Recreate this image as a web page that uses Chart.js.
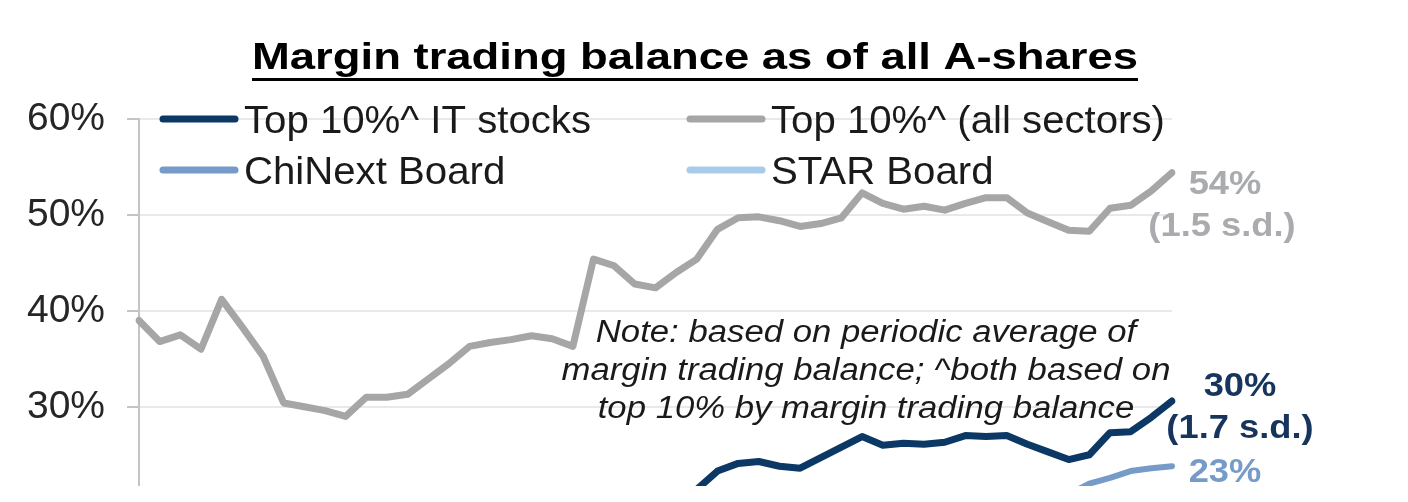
<!DOCTYPE html>
<html>
<head>
<meta charset="utf-8">
<title>Margin trading balance as of all A-shares</title>
<script src="https://cdn.jsdelivr.net/npm/chart.js@4.4.0/dist/chart.umd.min.js"></script>
<style>
  html, body { margin: 0; padding: 0; background: #fff; }
  #clip { width: 1408px; height: 486px; overflow: hidden; }
  #box { width: 1408px; height: 740px; }
</style>
</head>
<body>
<div id="clip"><div id="box"><canvas id="margin"></canvas></div></div>
<script>
// quarters on the x axis (the axis itself is cut off below)
var periods = ['1Q11','2Q11','3Q11','4Q11','1Q12','2Q12','3Q12','4Q12','1Q13','2Q13','3Q13','4Q13',
               '1Q14','2Q14','3Q14','4Q14','1Q15','2Q15','3Q15','4Q15','1Q16','2Q16','3Q16','4Q16',
               '1Q17','2Q17','3Q17','4Q17','1Q18','2Q18','3Q18','4Q18','1Q19','2Q19','3Q19','4Q19',
               '1Q20','2Q20','3Q20','4Q20','1Q21','2Q21','3Q21','4Q21','1Q22','2Q22','3Q22','4Q22',
               '1Q23','2Q23','3Q23'];

// % of margin trading balance of all A-shares
var itTop10 = [14.5, 13.8, 14.2, 13.6, 15.1, 14.4, 13.9, 12.6, 12.3, 12.1, 11.8, 12.7, 12.9,
               13.2, 13.8, 14.6, 15.5, 15.7, 16.0, 16.3, 16.1, 15.8, 19.0, 18.6, 17.9, 18.2,
               19.6, 21.4, 23.3, 24.1, 24.3, 23.8, 23.6, 24.7, 25.8, 26.9, 26.0, 26.2, 26.1,
               26.3, 27.0, 26.9, 27.0, 26.1, 25.3, 24.5, 25.0, 27.3, 27.4, 28.9, 30.6];
var allTop10 = [39.0, 36.8, 37.5, 36.0, 41.2, 38.3, 35.3, 30.4, 30.0, 29.6, 29.0, 31.0, 31.0,
                31.3, 32.9, 34.5, 36.3, 36.7, 37.0, 37.4, 37.1, 36.3, 45.4, 44.7, 42.8, 42.4,
                44.0, 45.4, 48.5, 49.7, 49.8, 49.4, 48.8, 49.1, 49.7, 52.3, 51.2, 50.6, 50.9,
                50.5, 51.2, 51.8, 51.8, 50.2, 49.3, 48.4, 48.3, 50.7, 51.0, 52.5, 54.4];
var chinext = [8.2, 7.9, 8.3, 8.0, 9.1, 8.6, 8.2, 7.1, 7.0, 7.3, 7.6, 8.9, 9.4,
               10.2, 11.5, 12.8, 14.1, 14.6, 15.0, 15.2, 14.8, 14.5, 16.6, 16.2, 15.7, 15.5,
               16.3, 16.9, 17.8, 18.3, 18.4, 18.1, 17.9, 18.2, 18.6, 19.5, 19.2, 19.0, 19.3,
               19.1, 19.6, 20.1, 20.2, 19.8, 19.7, 20.9, 22.0, 22.6, 23.3, 23.6, 23.8];
var star = [null, null, null, null, null, null, null, null, null, null, null, null, null,
            null, null, null, null, null, null, null, null, null, null, null, null, null,
            null, null, null, null, null, null, null, null, null, 6.2, 8.4, 9.9, 11.0,
            11.9, 12.8, 13.5, 14.1, 14.6, 15.3, 16.0, 16.8, 17.5, 18.0, 18.3, 18.6];

var seriesNames = ['Top 10%^ IT stocks', 'Top 10%^ (all sectors)', 'ChiNext Board', 'STAR Board'];
var seriesColors = ['#0c3866', '#a6a6a6', '#779bc8', '#a9cbea'];

// end-of-line call-outs: [dataset index, text, dx, dy, colour]
var endLabels = [
  [1, '54%', 53, 9, '#a9abaf'],
  [1, '(1.5 s.d.)', 50, 51, '#a9abaf'],
  [0, '30%', 68, -17, '#16345c'],
  [0, '(1.7 s.d.)', 68, 25, '#16345c'],
  [2, '23%', 53, 4, '#779bc8']
];

var noteLines = ['Note: based on periodic average of',
                 'margin trading balance; ^both based on',
                 'top 10% by margin trading balance'];

var chartTitle = 'Margin trading balance as of all A-shares';

// text drawn with a horizontal stretch factor
function stretchText(ctx, text, x, y, font, color, align, sx) {
  ctx.save();
  ctx.font = font;
  ctx.fillStyle = color;
  ctx.textAlign = align;
  ctx.textBaseline = 'alphabetic';
  ctx.translate(x, y);
  ctx.scale(sx, 1);
  ctx.fillText(text, 0, 0);
  ctx.restore();
}

var decor = {
  id: 'decor',
  afterDraw: function (chart) {
    var ctx = chart.ctx;
    var xs = chart.scales.x, ys = chart.scales.y;

    // title, underlined
    ctx.save();
    ctx.font = "bold 36px 'Liberation Sans', Arial, sans-serif";
    var tw = ctx.measureText(chartTitle).width;
    ctx.restore();
    stretchText(ctx, chartTitle, 695, 69, "bold 36px 'Liberation Sans', Arial, sans-serif", '#000', 'center', 886 / tw);
    ctx.save();
    ctx.fillStyle = '#000';
    ctx.fillRect(252, 78, 886, 3);
    ctx.restore();

    // legend, two columns
    var cols = [160, 687], rows = [119, 170];
    for (var i = 0; i < seriesNames.length; i++) {
      var lx = cols[i % 2], ly = rows[Math.floor(i / 2)];
      ctx.save();
      ctx.strokeStyle = seriesColors[i];
      ctx.lineWidth = 7;
      ctx.lineCap = 'round';
      ctx.beginPath();
      ctx.moveTo(lx + 3, ly);
      ctx.lineTo(lx + 75, ly);
      ctx.stroke();
      ctx.restore();
      stretchText(ctx, seriesNames[i], lx + 84, ly + 14, "39px 'Liberation Sans', Arial, sans-serif", '#1a1a1a', 'left', 1.03);
    }

    // note
    for (var n = 0; n < noteLines.length; n++) {
      stretchText(ctx, noteLines[n], 866, 342 + n * 38, "italic 31px 'Liberation Sans', Arial, sans-serif", '#1a1a1a', 'center', 1.12);
    }

    // end labels
    var last = periods.length - 1;
    endLabels.forEach(function (l) {
      var v = chart.data.datasets[l[0]].data[last];
      var px = xs.getPixelForValue(last) + l[2];
      var py = ys.getPixelForValue(v) + l[3] + 12;
      stretchText(ctx, l[1], px, py, "bold 33px 'Liberation Sans', Arial, sans-serif", l[4], 'center', 1.1);
    });
  }
};

var margin = document.getElementById('margin').getContext('2d');
var chart = new Chart(margin, {
  type: 'line',
  data: {
    labels: periods,
    datasets: [
      { label: seriesNames[0], data: itTop10, borderColor: seriesColors[0], borderWidth: 7, order: 1 },
      { label: seriesNames[1], data: allTop10, borderColor: seriesColors[1], borderWidth: 7, order: 2 },
      { label: seriesNames[2], data: chinext, borderColor: seriesColors[2], borderWidth: 6, order: 3 },
      { label: seriesNames[3], data: star, borderColor: seriesColors[3], borderWidth: 6, order: 4 }
    ]
  },
  options: {
    responsive: true,
    maintainAspectRatio: false,
    animation: false,
    layout: { padding: { top: 119, right: 236, bottom: 42, left: 0 } },
    elements: {
      point: { radius: 0 },
      line: { tension: 0, borderJoinStyle: 'round', borderCapStyle: 'round' }
    },
    plugins: {
      legend: { display: false },
      title: { display: false },
      tooltip: { enabled: false }
    },
    scales: {
      x: {
        offset: false,
        grid: { display: false },
        ticks: { display: false },
        border: { display: false },
        afterFit: function (s) { s.height = 0; }
      },
      y: {
        min: 0,
        max: 60,
        ticks: {
          stepSize: 10,
          padding: 22,
          color: '#262626',
          font: { family: "'Liberation Sans', Arial, sans-serif", size: 39 },
          callback: function (v) { return v + '%'; }
        },
        grid: { color: '#e9e9e9', lineWidth: 2, tickLength: 12, tickColor: '#c4c4c4', tickWidth: 2 },
        border: { color: '#c4c4c4', width: 2 },
        afterFit: function (s) { s.width = 139; }
      }
    }
  },
  plugins: [decor]
});
</script>
</body>
</html>
